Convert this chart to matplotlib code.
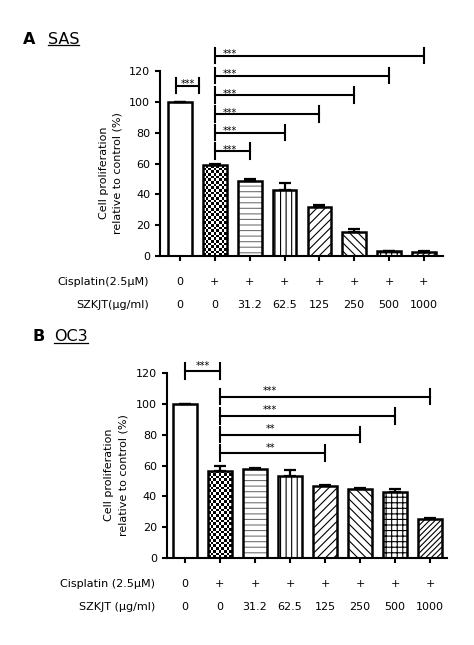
import matplotlib.pyplot as plt
import numpy as np
from matplotlib.lines import Line2D

plt.rcParams['font.family'] = ['DejaVu Sans']
plt.rcParams['hatch.linewidth'] = 0.8

cisplatin = ['0', '+', '+', '+', '+', '+', '+', '+']
szkjt = ['0', '0', '31.2', '62.5', '125', '250', '500', '1000']

sas_mean = [100, 58.8, 48.5, 42.8, 31.6, 15.8, 3.2, 2.8]
sas_err = [0, 0.6, 1.6, 4.3, 1.8, 1.5, 0.3, 0.3]
oc3_mean = [100, 56.7, 57.8, 53.3, 47.0, 44.8, 42.7, 25.2]
oc3_err = [0, 3.0, 0.8, 4.0, 0.5, 0.4, 1.9, 1.1]

# (from, to, height, label) - the first SAS bracket is drawn short in the original
sas_sig = [(-0.12, 0.55, 110.5, '***'), (1, 2, 68, '***'), (1, 3, 80, '***'), (1, 4, 92, '***'),
           (1, 5, 104.5, '***'), (1, 6, 117, '***'), (1, 7, 130, '***')]
oc3_sig = [(0, 1, 121, '***'), (1, 4, 68, '**'), (1, 5, 80, '**'), (1, 6, 92, '***'),
           (1, 7, 104.5, '***')]

hatches = [None, 'checker', '---', '|||', '////', '\\\\\\\\', '+++', '//////']
hatch_cols = ['black', 'black', '0.45', 'black', 'black', 'black', 'black', 'black']


def checker(ax, rect, cell=2.7):
    x, w, h = rect.get_x(), rect.get_width(), rect.get_height()
    p0 = ax.transData.transform((x, 0))
    p1 = ax.transData.transform((x + w, h))
    nx = max(1, int(round((p1[0] - p0[0]) / cell)))
    ny = max(1, int(round((p1[1] - p0[1]) / cell)))
    board = np.indices((ny, nx)).sum(0) % 2
    im = ax.imshow(board, extent=(x, x + w, 0, h), cmap='gray', interpolation='nearest',
                   aspect='auto', origin='lower', zorder=1)
    im.set_clip_path(rect)


def panel(rect, mean, err, sig, xlim, star_x, star_dy, cis_lbl, sz_lbl, ylab_pos):
    ax = fig.add_axes(rect)
    x = np.arange(len(mean))
    ax.set_xlim(*xlim)
    ax.set_ylim(0, 120)

    fills = ax.bar(x, mean, width=0.68, color='white', edgecolor='none', zorder=0)
    for i, b in enumerate(fills):
        if hatches[i] == 'checker':
            checker(ax, b)
        elif hatches[i]:
            ax.bar(x[i], mean[i], width=0.68, color='none', edgecolor=hatch_cols[i],
                   hatch=hatches[i], linewidth=0, zorder=1)
    ax.bar(x, mean, width=0.68, color='none', edgecolor='black', linewidth=1.8, zorder=2)
    ax.errorbar(x, mean, yerr=[np.zeros(len(err)), err], fmt='none', ecolor='black',
                elinewidth=1.6, capsize=4, capthick=1.6, zorder=3)
    ax.set_xlim(*xlim)
    ax.set_ylim(0, 120)

    for s in ['top', 'right']:
        ax.spines[s].set_visible(False)
    for s in ['left', 'bottom']:
        ax.spines[s].set_linewidth(1.5)
    ax.set_yticks(range(0, 121, 20))
    ax.set_xticks(x)
    ax.set_xticklabels([])
    ax.tick_params(length=3.5, width=1.5, labelsize=8)

    for x0, x1, y, lbl in sig:
        kw = dict(color='black', lw=1.5, clip_on=False, zorder=4)
        ax.plot([x0, x1], [y, y], **kw)
        ax.plot([x0, x0], [y - 5, y + 5], **kw)
        ax.plot([x1, x1], [y - 5, y + 5], **kw)
        tx = (x0 + x1) / 2 if x0 < 1 else x0 + star_x
        ax.annotate(lbl, (tx, y), xytext=(0, star_dy), textcoords='offset points',
                    ha='center', va='center', fontsize=7, annotation_clip=False)

    tr = ax.get_xaxis_transform()
    for i in x:
        ax.text(i, -0.139, cisplatin[i], transform=tr, ha='center', va='center', fontsize=8)
        ax.text(i, -0.265, szkjt[i], transform=tr, ha='center', va='center', fontsize=8)
    ax.text(-0.04, -0.139, cis_lbl, transform=ax.transAxes, ha='right', va='center', fontsize=8)
    ax.text(-0.04, -0.265, sz_lbl, transform=ax.transAxes, ha='right', va='center', fontsize=8)

    fig.text(ylab_pos[0], ylab_pos[1], 'Cell proliferation\nrelative to control (%)',
             rotation=90, ha='center', va='center', multialignment='center', fontsize=8,
             linespacing=1.5)
    return ax


def underlined(x, y, s):
    t = fig.text(x, y, s, fontsize=11.5, va='center')
    bb = t.get_window_extent(renderer=fig.canvas.get_renderer())
    bb = bb.transformed(fig.transFigure.inverted())
    fig.add_artist(Line2D([bb.x0, bb.x1], [bb.y0 + 0.002, bb.y0 + 0.002],
                          transform=fig.transFigure, color='black', lw=0.9))


fig = plt.figure(figsize=(4.74, 6.45), dpi=100)

panel([160 / 474, 1 - 256 / 645, 283 / 474, 185 / 645], sas_mean, sas_err, sas_sig,
      (-0.575, 7.55), 0.43, 1, 'Cisplatin(2.5μM)', 'SZKJT(μg/ml)', (111 / 474, 1 - 173 / 645))
panel([166.7 / 474, 1 - 558.3 / 645, 280.6 / 474, 185.6 / 645], oc3_mean, oc3_err, oc3_sig,
      (-0.52, 7.49), 1.43, 4, 'Cisplatin (2.5μM)', 'SZKJT (μg/ml)', (116 / 474, 1 - 475 / 645))

fig.text(23 / 474, 1 - 39 / 645, 'A', fontsize=11.5, fontweight='bold', va='center')
underlined(48 / 474, 1 - 39 / 645, 'SAS')
fig.text(33 / 474, 1 - 336.7 / 645, 'B', fontsize=11.5, fontweight='bold', va='center')
underlined(54 / 474, 1 - 336.7 / 645, 'OC3')

fig.savefig('out.png', dpi=100)
